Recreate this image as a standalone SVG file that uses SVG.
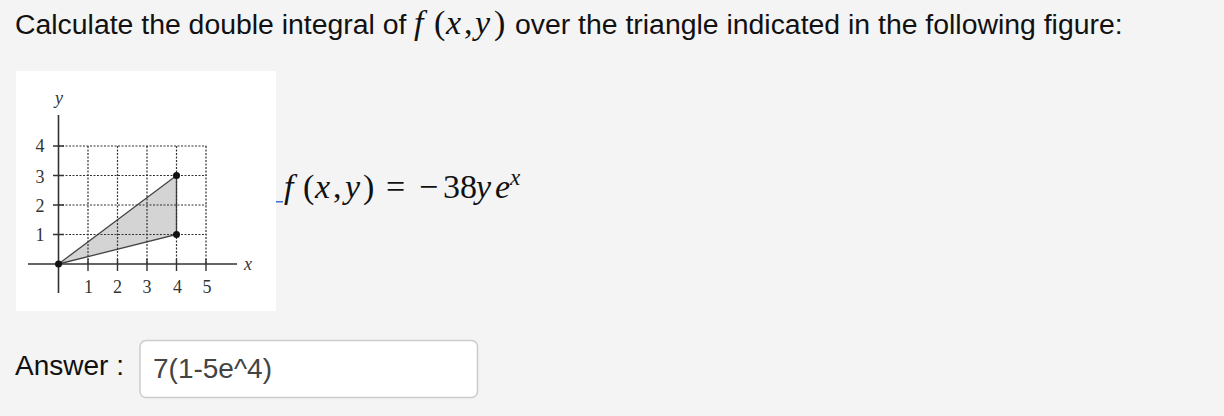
<svg xmlns="http://www.w3.org/2000/svg" width="1224" height="416" viewBox="0 0 1224 416">
<style>
.sans{font-family:"Liberation Sans",Arial,sans-serif;fill:#111}
.math{font-family:"Liberation Serif","Times New Roman",serif;fill:#111;font-size:34px}
.it{font-style:italic}
.grid{stroke:#333;stroke-width:1.2;stroke-dasharray:2 1.5;fill:none}
.axis{stroke:#333;stroke-width:1.6;fill:none}
.tick{stroke:#333;stroke-width:1.4}
.num{font-family:"Liberation Serif","Times New Roman",serif;font-size:18px;fill:#333;text-anchor:middle}
</style>
<rect width="1224" height="416" fill="#f4f4f4"/>
<g id="title">
<text class="sans" x="15" y="34" font-size="28.4">Calculate the double integral of</text>
<text class="math" y="34"><tspan class="it" x="414">f</tspan><tspan x="434">(</tspan><tspan class="it" x="446">x</tspan><tspan x="464">,</tspan><tspan class="it" x="475">y</tspan><tspan x="494">)</tspan></text>
<text class="sans" x="515" y="34" font-size="28.4">over the triangle indicated in the following figure:</text>
</g>
<g id="figure">
<rect x="16" y="71" width="260" height="240" fill="#ffffff"/>
<polygon points="58.5,264 176.5,175.5 176.5,234.5" fill="#d4d4d4" stroke="#444" stroke-width="1.3"/>
<g class="grid">
<path d="M58.5,146H206.5M58.5,175.5H206.5M58.5,205H206.5M58.5,234.5H206.5"/>
<path d="M88,146V264M117.5,146V264M147,146V264M176.5,146V264M206,146V264"/>
</g>
<path class="axis" d="M28,264H237M58.5,115V293"/>
<g class="tick">
<path d="M88,259V271M117.5,259V271M147,259V271M176.5,259V271M206,259V271"/>
<path d="M53,146H64M53,175.5H64M53,205H64M53,234.5H64"/>
</g>
<circle cx="58.5" cy="264" r="3.5" fill="#111"/>
<circle cx="176.5" cy="175.5" r="3.5" fill="#111"/>
<circle cx="176.5" cy="234.5" r="3.5" fill="#111"/>
<text class="num" x="88.5" y="293">1</text>
<text class="num" x="117.5" y="293">2</text>
<text class="num" x="147" y="293">3</text>
<text class="num" x="177.5" y="293">4</text>
<text class="num" x="207" y="293">5</text>
<text class="num" x="40" y="152">4</text>
<text class="num" x="40" y="182.5">3</text>
<text class="num" x="40" y="211.5">2</text>
<text class="num" x="40" y="241">1</text>
<text class="num it" x="248" y="270" font-size="20">x</text>
<text class="num it" x="59" y="104" font-size="20">y</text>
</g>
<g id="formula">
<rect x="276" y="201" width="7" height="1.5" fill="#3a6fd8"/>
<text class="math" y="198"><tspan class="it" x="284">f</tspan><tspan x="303">(</tspan><tspan class="it" x="315">x</tspan><tspan x="333">,</tspan><tspan class="it" x="345">y</tspan><tspan x="363">)</tspan><tspan x="386">=</tspan><tspan x="419">−</tspan><tspan x="443">38</tspan><tspan class="it" x="476">y</tspan><tspan class="it" x="495">e</tspan><tspan class="it" x="510" y="185" font-size="23">x</tspan></text>
</g>
<g id="answer">
<text class="sans" x="15" y="375" font-size="28">Answer :</text>
<rect x="140" y="340.5" width="337.5" height="57" rx="6" fill="#ffffff" stroke="#cccccc" stroke-width="1.5"/>
<text class="sans" x="153" y="378" font-size="28" style="fill:#444">7(1-5e^4)</text>
</g>
</svg>
